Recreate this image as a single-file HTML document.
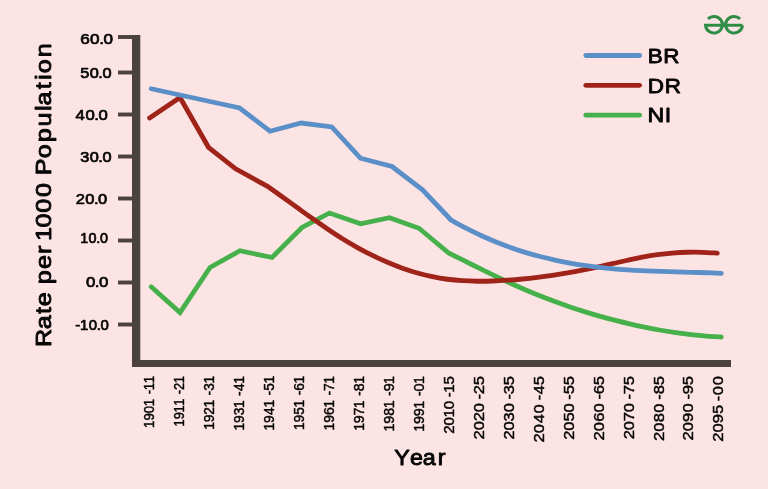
<!DOCTYPE html>
<html lang="en"><head><meta charset="utf-8"><title>Rate per 1000 Population by Year</title>
<style>
html,body{margin:0;padding:0;background:#fde4e4;}
svg{display:block;}
text{font-family:"Liberation Sans",sans-serif;fill:#060606;stroke:#060606;stroke-linejoin:round;}
</style></head>
<body>
<svg width="768" height="489" viewBox="0 0 768 489">
<rect x="0" y="0" width="768" height="489" fill="#fde4e4"/>
<g fill="#4b4240">
<rect x="132" y="35" width="8.3" height="332"/>
<rect x="132" y="360" width="599" height="7"/>
<rect x="118" y="35.05" width="16" height="3.9"/>
<rect x="118" y="70.55" width="16" height="3.9"/>
<rect x="118" y="112.55" width="16" height="3.9"/>
<rect x="118" y="154.55" width="16" height="3.9"/>
<rect x="118" y="196.55" width="16" height="3.9"/>
<rect x="118" y="238.55" width="16" height="3.9"/>
<rect x="118" y="280.55" width="16" height="3.9"/>
<rect x="118" y="322.55" width="16" height="3.9"/>
</g>
<g fill="none" stroke-width="4.8" stroke-linecap="round" stroke-linejoin="miter">
<path stroke="#46b04a" d="M151.2 286.75 L180 312.6 L210 267.5 L240 250.75 L272 257.5 L302 227.5 L329.5 213 L360.5 223.75 L389.5 217.75 L419 228.25 L449 253.25 C451.52 254.49 459.09 258.22 464.13 260.72 C469.17 263.21 474.21 265.73 479.26 268.21 C484.3 270.69 489.34 273.18 494.38 275.6 C499.43 278.02 504.47 280.42 509.51 282.74 C514.55 285.06 519.6 287.33 524.64 289.51 C529.68 291.69 534.72 293.79 539.77 295.8 C544.81 297.82 549.85 299.76 554.89 301.62 C559.94 303.48 564.98 305.26 570.02 306.97 C575.06 308.67 580.11 310.31 585.15 311.87 C590.19 313.44 595.24 314.93 600.28 316.35 C605.32 317.78 610.36 319.13 615.41 320.42 C620.45 321.71 625.49 322.93 630.53 324.08 C635.58 325.24 640.62 326.33 645.66 327.35 C650.7 328.38 655.75 329.34 660.79 330.24 C665.83 331.13 670.87 331.97 675.92 332.72 C680.96 333.48 686 334.16 691.04 334.74 C696.09 335.32 701.13 335.82 706.17 336.2 C711.21 336.58 718.78 336.87 721.3 337"/>
<path stroke="#9f2318" d="M149.6 118 L180 97.5 L208.5 147.3 L235.6 168.8 L267.5 186.4 C270 188.17 277.5 193.43 282.49 197 C287.49 200.57 292.49 204.22 297.49 207.82 C302.48 211.42 307.48 215.05 312.48 218.58 C317.48 222.11 322.48 225.63 327.47 228.99 C332.47 232.35 337.47 235.65 342.47 238.75 C347.46 241.85 352.46 244.81 357.46 247.6 C362.46 250.38 367.46 253 372.45 255.46 C377.45 257.91 382.45 260.2 387.45 262.31 C392.44 264.43 397.44 266.38 402.44 268.15 C407.44 269.92 412.44 271.52 417.43 272.94 C422.43 274.35 427.43 275.59 432.43 276.64 C437.42 277.7 442.42 278.56 447.42 279.25 C452.42 279.93 457.42 280.4 462.41 280.73 C467.41 281.07 472.41 281.2 477.41 281.25 C482.4 281.3 487.4 281.19 492.4 281.02 C497.4 280.85 502.4 280.57 507.39 280.23 C512.39 279.9 517.39 279.49 522.39 279.01 C527.38 278.54 532.38 277.99 537.38 277.39 C542.38 276.78 547.38 276.1 552.37 275.36 C557.37 274.62 562.37 273.82 567.37 272.96 C572.36 272.1 577.36 271.18 582.36 270.2 C587.36 269.22 592.36 268.18 597.35 267.09 C602.35 266.01 607.35 264.83 612.35 263.69 C617.34 262.55 622.34 261.35 627.34 260.26 C632.34 259.17 637.34 258.07 642.33 257.14 C647.33 256.22 652.33 255.37 657.33 254.69 C662.32 254.01 667.32 253.46 672.32 253.05 C677.32 252.65 682.32 252.38 687.31 252.26 C692.31 252.13 697.31 252.16 702.31 252.3 C707.3 252.44 714.8 252.97 717.3 253.1"/>
<path stroke="#5a8fc8" d="M151.2 88.75 L180 95 L210 101.5 L239.6 108 L270 131.25 L301.2 123 L331.8 126.9 L360.4 158.2 L392 166.5 L422.5 189.75 L451 220 C453.5 221.37 461.01 225.63 466.02 228.22 C471.02 230.8 476.03 233.23 481.03 235.53 C486.04 237.83 491.04 239.98 496.05 242 C501.06 244.02 506.06 245.9 511.07 247.66 C516.07 249.43 521.08 251.06 526.08 252.58 C531.09 254.1 536.09 255.49 541.1 256.79 C546.11 258.08 551.11 259.26 556.12 260.34 C561.12 261.43 566.13 262.41 571.13 263.3 C576.14 264.19 581.14 264.98 586.15 265.7 C591.16 266.41 596.16 267.03 601.17 267.59 C606.17 268.14 611.18 268.61 616.18 269.03 C621.19 269.45 626.19 269.79 631.2 270.1 C636.21 270.41 641.21 270.65 646.22 270.88 C651.22 271.1 656.23 271.28 661.23 271.45 C666.24 271.62 671.24 271.75 676.25 271.9 C681.26 272.04 686.26 272.16 691.27 272.3 C696.27 272.44 701.28 272.57 706.28 272.74 C711.29 272.9 718.8 273.21 721.3 273.3"/>
<path stroke="#5a8fc8" d="M585.8 55.5H639.6"/>
<path stroke="#9f2318" d="M585.8 85.3H639.6"/>
<path stroke="#46b04a" d="M585.8 115.2H639.6"/>
</g>
<g fill="none" stroke="#2f8d46" stroke-width="3">
<path d="M707.92 18.93 A8.45 8.3 0 1 1 705.55 25.3 H742.45"/>
<path d="M740.08 18.93 A8.45 8.3 0 1 0 742.45 25.3"/>
</g>
<text transform="translate(80.08 44.2) scale(1.2 1)" font-size="14.24" stroke-width="0.7" x="0.18 8.37 15.89 19.46" y="-0.35">60.0</text>
<text transform="translate(80.31 78.4) scale(1.146 1)" font-size="14.24" stroke-width="0.7" x="-0.06 8.2 15.75 19.33" y="-0.35">50.0</text>
<text transform="translate(74.99 120.4) scale(1.174 1)" font-size="14.24" stroke-width="0.7" x="0.45 8.87 16.4 19.97" y="-0.35">40.0</text>
<text transform="translate(80.49 162.7) scale(1.146 1)" font-size="14.24" stroke-width="0.7" x="-0.18 8.04 15.6 19.18" y="-0.35">30.0</text>
<text transform="translate(76.13 204.4) scale(1.156 1)" font-size="14.24" stroke-width="0.7" x="-0.27 7.86 15.4 18.98" y="-0.35">20.0</text>
<text transform="translate(80.89 243.6) scale(1.008 1)" font-size="14.24" stroke-width="0.7" x="-0.63 7.63 15.29 18.99" y="-0.35">10.0</text>
<text transform="translate(85.55 287.4) scale(1.183 1)" font-size="14.24" stroke-width="0.7" x="0.34 7.87 11.43" y="-0.35">0.0</text>
<text transform="translate(74.68 329.9) scale(1.05 1)" font-size="14.24" stroke-width="0.7" x="0.49 5.08 13.3 20.93 24.58" y="-0.35">-10.0</text>
<text transform="translate(153.9 427.23) rotate(-90) scale(0.895 1)" font-size="14.81" stroke-width="0.45" x="-0.76 7.4 15.71 23.58 32.24 36.84 41.33 49.06" y="-0.23">1901 -11</text>
<text transform="translate(183.89 425.83) rotate(-90) scale(0.871 1)" font-size="14.81" stroke-width="0.45" x="-0.76 7.43 15.21 22.96 31.7 36.39 41.28 49.02" y="-0.23">1911 -21</text>
<text transform="translate(213.88 429.03) rotate(-90) scale(0.927 1)" font-size="14.81" stroke-width="0.45" x="-0.76 7.37 15.47 23.15 31.71 36.22 41.24 49.01" y="-0.23">1921 -31</text>
<text transform="translate(243.87 429.73) rotate(-90) scale(0.929 1)" font-size="14.81" stroke-width="0.45" x="-0.77 7.36 15.65 23.42 31.94 36.4 41.65 49.63" y="-0.23">1931 -41</text>
<text transform="translate(273.86 429.73) rotate(-90) scale(0.93 1)" font-size="14.81" stroke-width="0.45" x="-0.77 7.36 15.87 23.86 32.37 36.84 41.83 49.62" y="-0.23">1941 -51</text>
<text transform="translate(303.85 429.23) rotate(-90) scale(0.932 1)" font-size="14.81" stroke-width="0.45" x="-0.77 7.36 15.61 23.41 31.91 36.35 41.18 48.95" y="-0.23">1951 -61</text>
<text transform="translate(333.84 429.73) rotate(-90) scale(0.948 1)" font-size="14.81" stroke-width="0.45" x="-0.77 7.34 15.42 23.17 31.64 36.05 40.86 48.51" y="-0.23">1961 -71</text>
<text transform="translate(363.83 430.13) rotate(-90) scale(0.954 1)" font-size="14.81" stroke-width="0.45" x="-0.77 7.34 15.4 23.06 31.5 35.88 40.8 48.56" y="-0.23">1971 -81</text>
<text transform="translate(393.82 430.73) rotate(-90) scale(0.964 1)" font-size="14.81" stroke-width="0.45" x="-0.77 7.33 15.5 23.25 31.68 36.06 40.92 48.6" y="-0.23">1981 -91</text>
<text transform="translate(423.81 431.13) rotate(-90) scale(0.97 1)" font-size="14.81" stroke-width="0.45" x="-0.77 7.32 15.44 23.12 31.53 35.89 40.86 48.67" y="-0.23">1991 -01</text>
<text transform="translate(453.8 433.5) rotate(-90) scale(1.02 1)" font-size="14.81" stroke-width="0.45" x="-0.32 7.83 15.59 23.76 31.78 35.6 39.98 48.13" y="-0.23">2010 -15</text>
<text transform="translate(483.79 439.2) rotate(-90) scale(1.12 1)" font-size="14.81" stroke-width="0.45" x="-0.34 7.9 15.98 24.06 31.87 35.48 40.17 48.23" y="-0.23">2020 -25</text>
<text transform="translate(513.78 439.2) rotate(-90) scale(1.11 1)" font-size="14.81" stroke-width="0.45" x="-0.34 7.75 16.01 24.19 32.03 35.67 40.55 48.71" y="-0.23">2030 -35</text>
<text transform="translate(543.77 442.1) rotate(-90) scale(1.12 1)" font-size="14.81" stroke-width="0.45" x="-0.34 7.86 16.89 25.5 33.75 37.35 42.45 50.82" y="-0.23">2040 -45</text>
<text transform="translate(573.76 439.4) rotate(-90) scale(1.115 1)" font-size="14.81" stroke-width="0.45" x="-0.34 7.74 15.98 24.18 32 35.62 40.47 48.66" y="-0.23">2050 -55</text>
<text transform="translate(603.75 440) rotate(-90) scale(1.12 1)" font-size="14.81" stroke-width="0.45" x="-0.34 7.75 16.23 24.55 32.52 36.1 40.79 48.95" y="-0.23">2060 -65</text>
<text transform="translate(633.74 438.9) rotate(-90) scale(1.119 1)" font-size="14.81" stroke-width="0.45" x="-0.34 7.74 15.8 23.88 31.68 35.28 39.96 48.02" y="-0.23">2070 -75</text>
<text transform="translate(663.73 440.5) rotate(-90) scale(1.12 1)" font-size="14.81" stroke-width="0.45" x="-0.34 7.74 16.26 24.82 32.85 36.43 41.23 49.39" y="-0.23">2080 -85</text>
<text transform="translate(693.72 440) rotate(-90) scale(1.12 1)" font-size="14.81" stroke-width="0.45" x="-0.34 7.77 16.05 24.6 32.51 36.09 40.84 48.95" y="-0.23">2090 -95</text>
<text transform="translate(723.71 441.3) rotate(-90) scale(1.12 1)" font-size="14.81" stroke-width="0.45" x="-0.34 7.89 16.16 24.27 32.07 35.83 41.22 50.06" y="-0.23">2095 -00</text>
<text transform="translate(51.7 347.52) rotate(-90) scale(1.1 1)" font-size="22.87" stroke-width="0.9" x="0.59 16.61 30.52 37.45 50.68 57.52 71.29 84.94 92.24 96.79 109.04 122.48 136.85 150.71 156.6 172.08 186.52 200.87 215.07 219.97 234.83 243.28 249.42 263.97" y="-0.45">Rate per 1000 Population</text>
<text transform="translate(394.6 465.5) scale(1.05 1)" font-size="22.22" stroke-width="0.9" x="-0.23 14.72 26.71 41.09" y="-0.45">Year</text>
<text transform="translate(646.92 63.9) scale(1.064 1)" font-size="21.08" stroke-width="0.9" x="0.67 15.35" y="-0.45">BR</text>
<text transform="translate(646.92 93) scale(1.065 1)" font-size="21.08" stroke-width="0.9" x="0.67 16.66" y="-0.45">DR</text>
<text transform="translate(646.92 122.9) scale(1.1 1)" font-size="21.08" stroke-width="0.9" x="0.61 16.32" y="-0.45">NI</text>
</svg>
</body></html>
